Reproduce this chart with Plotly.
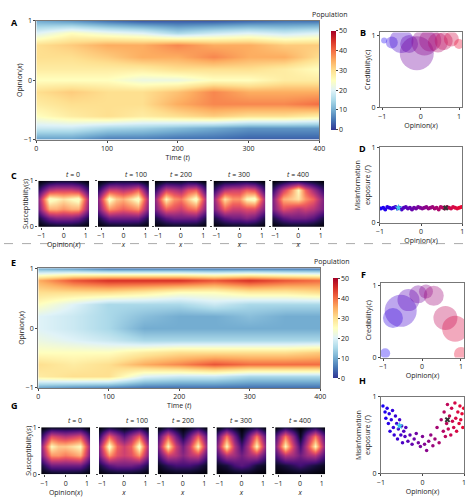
import plotly.graph_objects as go

W, H = 474, 498
opinion_levels = [-1, -0.8, -0.6, -0.4, -0.2, 0, 0.2, 0.4, 0.6, 0.8, 1]
time_levels = [0, 50, 100, 150, 200, 250, 300, 350, 400]
popA = [
    [8, 8, 5, 5, 4, 4, 3, 3, 3],
    [18, 18, 15, 14, 12, 10, 8, 8, 8],
    [25, 28, 30, 28, 30, 32, 30, 30, 28],
    [28, 30, 30, 30, 35, 38, 38, 38, 40],
    [30, 32, 30, 30, 33, 38, 35, 35, 35],
    [25, 25, 25, 22, 22, 25, 25, 28, 28],
    [28, 28, 28, 28, 30, 30, 30, 28, 25],
    [30, 30, 32, 35, 35, 38, 35, 35, 30],
    [30, 32, 35, 35, 38, 35, 35, 32, 32],
    [20, 25, 22, 20, 15, 18, 20, 18, 20],
    [10, 8, 5, 3, 3, 3, 4, 5, 5],
]
popE = [
    [8, 6, 5, 4, 4, 4, 4, 4, 4],
    [28, 30, 30, 20, 18, 18, 15, 15, 15],
    [30, 28, 30, 35, 38, 42, 40, 40, 40],
    [25, 25, 25, 28, 30, 30, 30, 30, 32],
    [22, 20, 18, 15, 15, 15, 15, 15, 15],
    [20, 18, 15, 10, 10, 10, 10, 10, 10],
    [20, 18, 15, 12, 10, 10, 12, 10, 10],
    [25, 20, 15, 15, 15, 18, 15, 15, 15],
    [30, 30, 30, 28, 25, 25, 28, 28, 30],
    [35, 42, 45, 45, 45, 42, 45, 42, 40],
    [10, 8, 5, 5, 5, 5, 5, 5, 5],
]
snap_times = [0, 100, 200, 300, 400]
dens_x = [-1, -0.67, -0.33, 0, 0.33, 0.67, 1]
dens_s = [0, 0.2, 0.4, 0.6, 0.8, 1.0]
densC = [
    [[0,0.02,0.03,0.03,0.03,0.02,0],[0.1,0.3,0.35,0.35,0.35,0.3,0.1],[0.3,0.75,0.75,0.7,0.75,0.75,0.3],[0.35,0.95,0.9,0.85,0.9,0.95,0.35],[0.15,0.45,0.5,0.5,0.5,0.45,0.15],[0,0.05,0.08,0.08,0.08,0.05,0]],
    [[0,0.02,0.03,0.03,0.03,0.02,0],[0.1,0.3,0.3,0.3,0.3,0.3,0.1],[0.3,0.7,0.65,0.6,0.65,0.7,0.3],[0.35,0.95,0.8,0.75,0.85,0.95,0.35],[0.15,0.5,0.5,0.45,0.5,0.6,0.15],[0,0.05,0.08,0.08,0.08,0.05,0]],
    [[0,0.02,0.03,0.03,0.03,0.02,0],[0.1,0.25,0.3,0.3,0.3,0.3,0.1],[0.3,0.6,0.55,0.5,0.6,0.65,0.3],[0.35,0.9,0.7,0.65,0.8,0.95,0.35],[0.15,0.5,0.45,0.4,0.55,0.6,0.15],[0,0.05,0.05,0.05,0.08,0.05,0]],
    [[0,0.02,0.03,0.03,0.03,0.02,0],[0.1,0.25,0.3,0.3,0.35,0.3,0.1],[0.3,0.6,0.5,0.5,0.55,0.55,0.3],[0.35,0.85,0.7,0.7,0.9,0.95,0.35],[0.15,0.45,0.5,0.5,0.6,0.55,0.15],[0,0.05,0.05,0.08,0.08,0.05,0]],
    [[0,0.02,0.03,0.03,0.03,0.02,0],[0.1,0.25,0.3,0.3,0.3,0.25,0.1],[0.3,0.55,0.5,0.45,0.5,0.45,0.3],[0.3,0.75,0.8,0.85,0.7,0.6,0.3],[0.15,0.5,0.7,0.9,0.6,0.4,0.15],[0,0.05,0.1,0.1,0.08,0.05,0]],
]
densG = [
    [[0,0.02,0.03,0.03,0.03,0.02,0],[0.1,0.3,0.3,0.3,0.3,0.3,0.1],[0.3,0.7,0.7,0.65,0.7,0.75,0.3],[0.35,0.9,0.8,0.8,0.85,0.9,0.35],[0.15,0.55,0.5,0.45,0.5,0.55,0.15],[0,0.05,0.05,0.05,0.05,0.05,0]],
    [[0,0.02,0.03,0.03,0.03,0.02,0],[0.1,0.25,0.3,0.3,0.3,0.25,0.1],[0.3,0.7,0.55,0.5,0.55,0.7,0.3],[0.35,0.95,0.6,0.5,0.6,0.95,0.35],[0.15,0.6,0.4,0.25,0.4,0.6,0.15],[0,0.08,0.05,0.02,0.05,0.08,0]],
    [[0,0.01,0.02,0.02,0.02,0.01,0],[0.05,0.15,0.2,0.2,0.2,0.15,0.05],[0.2,0.5,0.45,0.35,0.45,0.5,0.2],[0.3,0.9,0.5,0.3,0.5,0.9,0.3],[0.2,0.6,0.3,0.1,0.3,0.6,0.2],[0,0.1,0.05,0,0.05,0.1,0]],
    [[0,0.01,0.02,0.02,0.02,0.01,0],[0.05,0.1,0.2,0.25,0.2,0.1,0.05],[0.2,0.45,0.4,0.3,0.4,0.45,0.2],[0.3,0.9,0.45,0.2,0.45,0.9,0.3],[0.2,0.65,0.3,0.05,0.3,0.65,0.2],[0,0.1,0.05,0,0.05,0.1,0]],
    [[0,0.01,0.02,0.02,0.02,0.01,0],[0.05,0.1,0.15,0.2,0.15,0.1,0.05],[0.2,0.45,0.4,0.3,0.4,0.45,0.2],[0.3,0.9,0.5,0.2,0.5,0.9,0.3],[0.2,0.65,0.35,0.05,0.35,0.65,0.2],[0,0.1,0.05,0,0.05,0.1,0]],
]
bubB_x = [-0.95, -0.75, -0.5, -0.3, -0.1, 0.1, 0.25, 0.45, 0.6, 0.8, 1.0]
bubB_y = [0.93, 0.9, 0.92, 0.88, 0.75, 0.9, 0.93, 0.9, 0.92, 0.95, 0.88]
bubB_s = [6, 12, 24, 18, 34, 26, 22, 20, 18, 15, 10]
bubF_x = [-0.95, -0.75, -0.55, -0.35, -0.1, 0.1, 0.3, 0.6, 0.85, 1.0]
bubF_y = [0.06, 0.55, 0.65, 0.8, 0.88, 0.92, 0.86, 0.55, 0.4, 0.05]
bubF_s = [10, 20, 32, 22, 18, 14, 20, 24, 26, 14]
D_x = [-0.98,-0.92,-0.87,-0.82,-0.77,-0.72,-0.67,-0.62,-0.57,-0.52,-0.47,-0.42,-0.37,-0.32,-0.27,-0.22,-0.17,-0.12,-0.07,-0.02,0.03,0.08,0.13,0.18,0.23,0.28,0.33,0.38,0.43,0.48,0.53,0.58,0.63,0.68,0.73,0.78,0.83,0.88,0.93,0.98]
D_y = [0.19,0.2,0.18,0.21,0.2,0.19,0.2,0.21,0.19,0.2,0.18,0.2,0.21,0.19,0.2,0.18,0.2,0.19,0.21,0.2,0.19,0.2,0.21,0.19,0.2,0.21,0.19,0.2,0.18,0.21,0.2,0.19,0.21,0.2,0.19,0.21,0.2,0.19,0.2,0.21]
H_x = [-0.95,-0.9,-0.88,-0.85,-0.82,-0.8,-0.78,-0.75,-0.72,-0.7,-0.68,-0.65,-0.62,-0.6,-0.58,-0.55,-0.52,-0.5,-0.48,-0.45,-0.42,-0.4,-0.35,-0.3,-0.25,-0.2,-0.15,-0.1,-0.05,0.0,0.05,0.1,0.15,0.2,0.25,0.3,0.35,0.4,0.45,0.5,0.52,0.55,0.58,0.6,0.62,0.65,0.68,0.7,0.72,0.75,0.78,0.8,0.82,0.85,0.88,0.9,0.92,0.95,0.97,0.99]
H_y = [0.88,0.8,0.72,0.85,0.65,0.78,0.55,0.7,0.82,0.6,0.5,0.75,0.65,0.45,0.58,0.7,0.5,0.62,0.4,0.55,0.48,0.6,0.42,0.5,0.38,0.45,0.52,0.4,0.35,0.48,0.38,0.3,0.42,0.5,0.36,0.45,0.6,0.4,0.7,0.55,0.8,0.48,0.65,0.9,0.58,0.75,0.5,0.85,0.68,0.6,0.92,0.72,0.55,0.8,0.65,0.88,0.7,0.78,0.6,0.85]

def col(x, a=1.0):
    f = (x + 1) / 2
    r = int(20 + 215 * f); g = int(10 * f); b = int(250 - 200 * f)
    return f"rgba({r},{g},{b},{a})"

def px(x0, x1): return [x0 / W, x1 / W]
def py(y0, y1): return [1 - y1 / H, 1 - y0 / H]

fig = go.Figure()
FONT = dict(family="Open Sans", size=7, color="#222")
n = [0]
def add_axes(xd, yd, xr, yr, xtick, ytick, xtitle, ytitle, showy=True):
    n[0] += 1
    i = n[0]
    s = "" if i == 1 else str(i)
    common = dict(showline=True, linecolor="#777", mirror=True, ticks="outside", ticklen=2,
                  tickfont=FONT, showgrid=False, zeroline=False)
    fig.layout["xaxis" + s] = dict(domain=xd, range=xr, anchor="y" + s, tickvals=xtick,
                                   title=dict(text=xtitle, font=FONT, standoff=0), **common)
    fig.layout["yaxis" + s] = dict(domain=yd, range=yr, anchor="x" + s, tickvals=ytick,
                                   showticklabels=showy,
                                   title=dict(text=ytitle, font=FONT, standoff=0), **common)
    return "x" + s, "y" + s

cb = dict(thickness=5, tickfont=FONT, tickvals=[0, 10, 20, 30, 40, 50], ticks="outside", ticklen=2,
          outlinewidth=0, xanchor="left", yanchor="top")

def heat_panel(z, xd, yd, cx, caxname):
    xa, ya = add_axes(xd, yd, [0, 400], [-1, 1], [0, 100, 200, 300, 400], [-1, 0, 1],
                      "Time (<i>t</i>)", "Opinion(<i>x</i>)")
    fig.add_trace(go.Heatmap(x=time_levels, y=opinion_levels, z=z, coloraxis=caxname, zsmooth="best",
                             xaxis=xa, yaxis=ya))
    fig.layout[caxname] = dict(colorscale="RdYlBu_r", cmin=0, cmax=50,
                               colorbar=dict(x=cx / W, y=yd[1], len=yd[1] - yd[0], **cb))
    fig.add_annotation(text="Population", x=(cx + 28) / W, y=yd[1], xref="paper", yref="paper",
                       xanchor="right", yanchor="bottom", showarrow=False, font=FONT)

heat_panel(popA, px(33, 322), py(16, 137), 324, "coloraxis")
heat_panel(popE, px(35, 323), py(268, 390), 326, "coloraxis2")

def bubble_panel(xs, ys, ss, xd, yd):
    xa, ya = add_axes(xd, yd, [-1.06, 1.08], [0, 1.04], [-1, 0, 1], [0, 1],
                      "Opinion(<i>x</i>)", "Credibility(<i>c</i>)")
    fig.add_trace(go.Scatter(x=xs, y=ys, mode="markers", xaxis=xa, yaxis=ya, cliponaxis=True,
                             marker=dict(size=ss, color=[col(v, 0.5) for v in xs], line=dict(width=0))))

bubble_panel(bubB_x, bubB_y, bubB_s, px(384, 468), py(28, 104))
bubble_panel(bubF_x, bubF_y, bubF_s, px(385, 470), py(283, 359))

def expo_panel(xs, ys, xd, yd, mk, star, cross):
    xa, ya = add_axes(xd, yd, [-1, 1], [0, 1], [-1, 0, 1], [0, 1],
                      "Opinion(<i>x</i>)", "Misinformation<br>exposure (<i>Γ</i>)")
    fig.add_trace(go.Scatter(x=xs, y=ys, mode="markers", xaxis=xa, yaxis=ya,
                             marker=dict(size=mk, color=[col(v) for v in xs])))
    fig.add_trace(go.Scatter(x=[star[0]], y=[star[1]], mode="markers", xaxis=xa, yaxis=ya,
                             marker=dict(size=6, symbol="star", color="#3cc8e8")))
    fig.add_trace(go.Scatter(x=[cross[0]], y=[cross[1]], mode="markers", xaxis=xa, yaxis=ya,
                             marker=dict(size=5, symbol="x", color="#333")))

expo_panel(D_x, D_y, px(384, 468), py(145, 222), 4, (-0.55, 0.2), (0.6, 0.2))
expo_panel(H_x, H_y, px(385, 470), py(399, 477), 3.5, (-0.55, 0.62), (0.6, 0.7))

def dens_row(dens, xs_px, yd):
    for k, (z, (a, b)) in enumerate(zip(dens, xs_px)):
        xa, ya = add_axes(px(a, b), yd, [-1.15, 1.15], [0, 1], [-1, 0, 1], [0, 1],
                          "Opinion(<i>x</i>)" if k == 0 else "<i>x</i>",
                          "Susceptibility(<i>s</i>)" if k == 0 else None, showy=(k == 0))
        fig.layout["xaxis" + xa[1:]].showline = False
        fig.layout["yaxis" + ya[1:]].showline = False
        fig.add_trace(go.Heatmap(x=[-1.15] + dens_x[1:-1] + [1.15], y=dens_s, z=z, colorscale="Magma",
                                 zmin=0, zmax=0.9, zsmooth="best", showscale=False, xaxis=xa, yaxis=ya))
        fig.add_annotation(text=f"<i>t</i> = {snap_times[k]}", x=(a + b) / 2 / W, y=yd[1], xref="paper",
                           yref="paper", yanchor="bottom", showarrow=False, font=FONT)

dens_row(densC, [(35, 87), (96, 148), (154, 207), (214, 267), (274, 327)], py(179, 226))
dens_row(densG, [(38, 88), (97, 148), (157, 208), (217, 268), (277, 328)], py(430, 478))

for lab, x, y in [("A", 5, 9), ("B", 372, 19), ("C", 5, 174), ("D", 372, 137), ("E", 5, 262),
                  ("F", 372, 274), ("G", 5, 417), ("H", 372, 391)]:
    fig.add_annotation(text=f"<b>{lab}</b>", x=x / W, y=1 - y / H, xref="paper", yref="paper",
                       showarrow=False, font=dict(family="Open Sans", size=9, color="black"))

fig.add_shape(type="line", x0=0, x1=1, y0=1 - 243 / H, y1=1 - 243 / H, xref="paper", yref="paper",
              line=dict(color="#aaa", width=1, dash="dash"))
fig.update_layout(width=W, height=H, margin=dict(l=0, r=0, t=0, b=0), showlegend=False,
                  plot_bgcolor="white", paper_bgcolor="white", font=FONT)
fig.write_html("out.html", config={"displayModeBar": False},
               post_script="document.body.style.margin='0';document.body.style.overflow='hidden';")
